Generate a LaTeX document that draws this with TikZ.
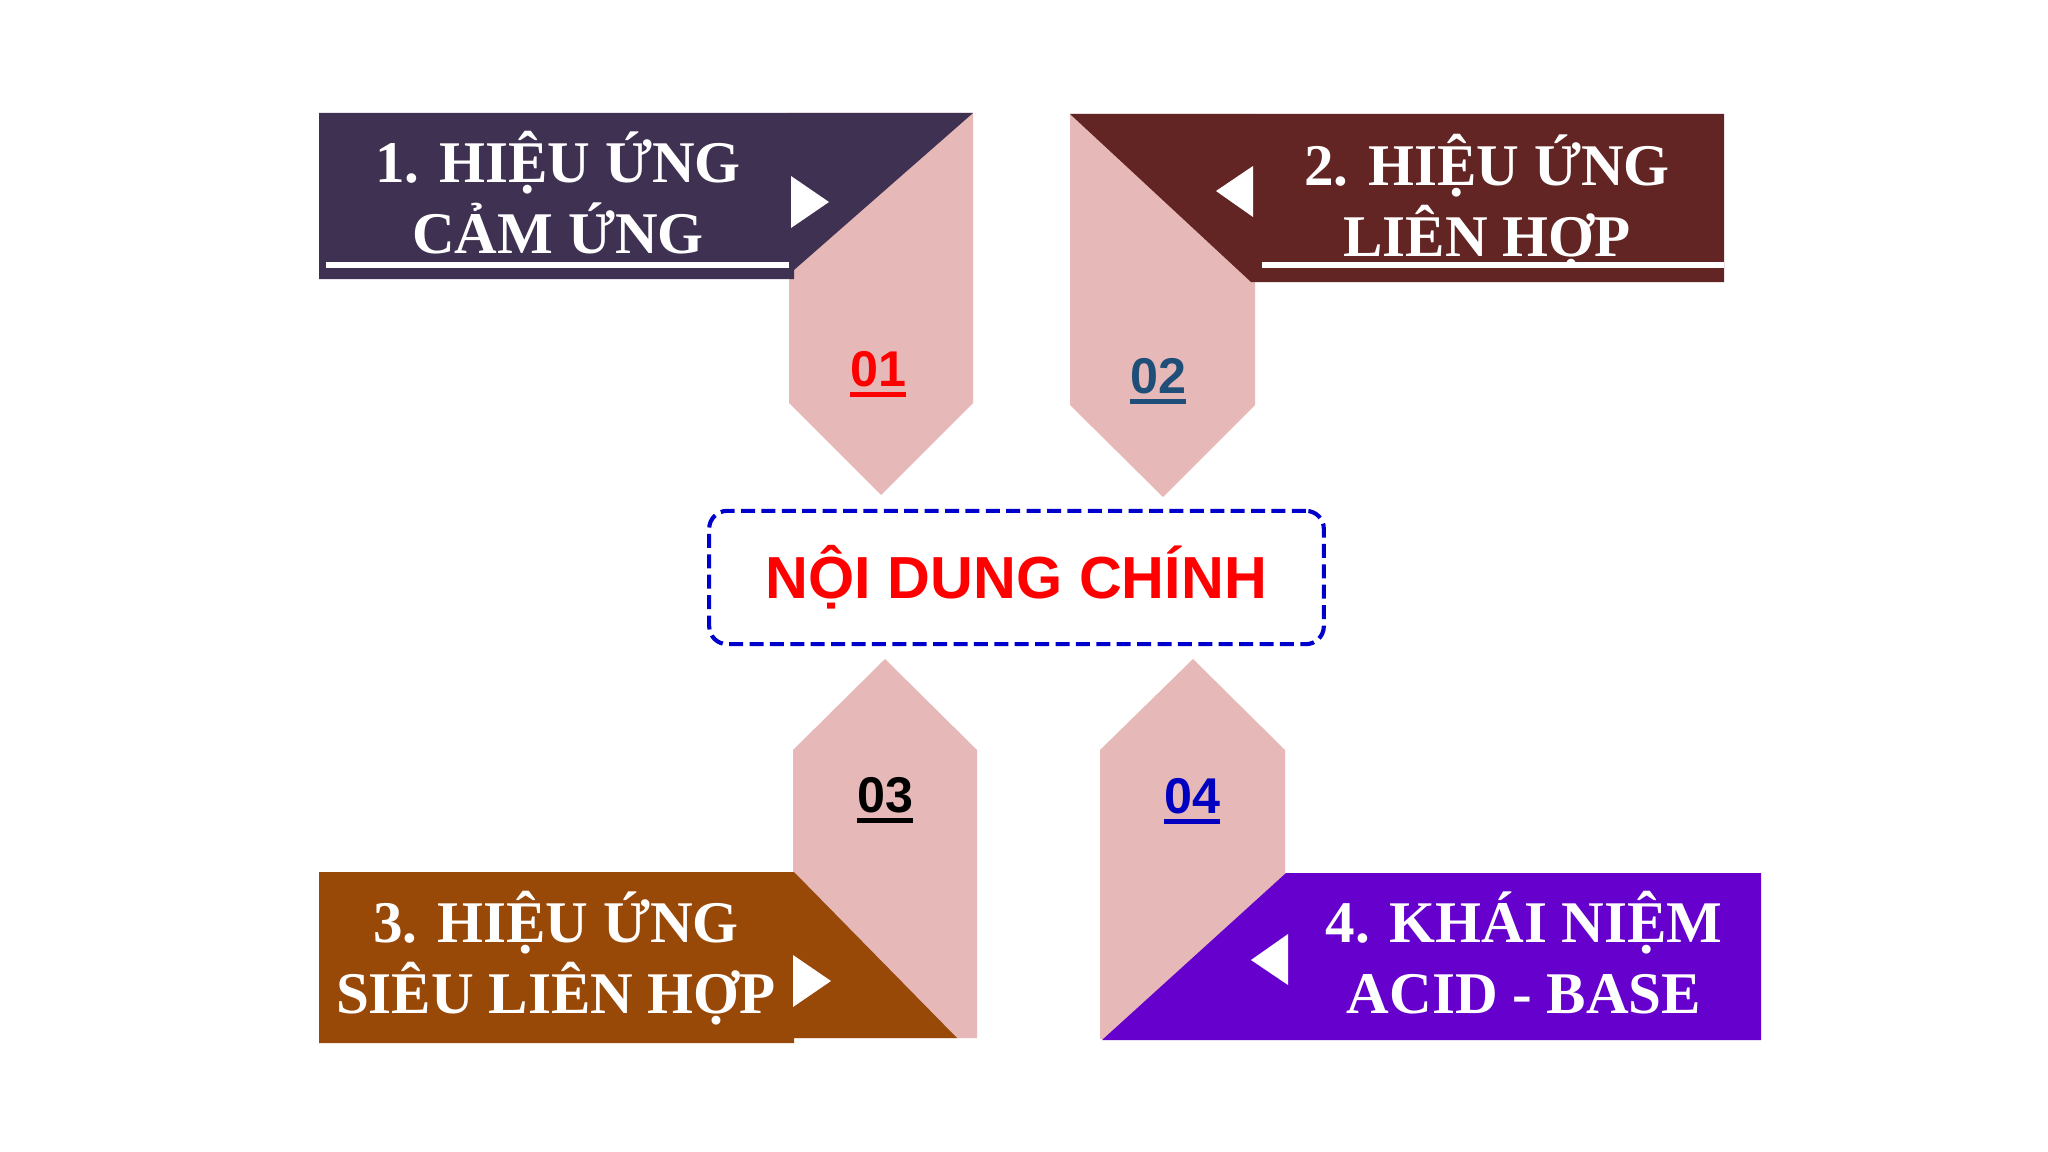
\documentclass[tikz,border=0pt]{standalone}
\usepackage{fontspec}
\usepackage{tikz}
\usetikzlibrary{calc}
\setmainfont{Liberation Serif}
\newfontfamily\titlefont{Liberation Serif}
\newfontfamily\numfont{Liberation Sans}
\definecolor{boxone}{HTML}{3F3151}
\definecolor{boxtwo}{HTML}{632523}
\definecolor{boxthree}{HTML}{984807}
\definecolor{boxfour}{HTML}{6600CC}
\definecolor{tabpink}{HTML}{E6B9B8}
\definecolor{frameblue}{HTML}{0000CC}
\definecolor{numblue}{HTML}{1F4E79}
\definecolor{numdeep}{HTML}{0000C0}

\begin{document}
\begin{tikzpicture}[x=0.75pt,y=0.75pt,yscale=-1,xscale=1,
    tab/.style={fill=tabpink},
    bar/.style={draw=white,line width=4.5pt},
    marker/.style={fill=white},
    heading/.style={text=white,align=center,inner sep=0pt,font=\titlefont\bfseries\fontsize{44.3}{53.25}\selectfont},
    num/.style={inner sep=0pt,font=\numfont\bfseries\fontsize{37.7}{40}\selectfont},
    numline/.style={line width=3.75pt}]
\useasboundingbox (0,0) rectangle (2048,1152);
\fill [white] (0,0) rectangle (2048,1152);

%Shape: Pentagon (01)
\fill [tab] (789,113) -- (973,113) -- (973,403) -- (881,495) -- (789,403) -- cycle ;
%Shape: Pentagon (02)
\fill [tab] (1070,114) -- (1255,114) -- (1255,405) -- (1163,497) -- (1070,405) -- cycle ;
%Shape: Pentagon (03)
\fill [tab] (793,1038) -- (977,1038) -- (977,750) -- (885,659) -- (793,750) -- cycle ;
%Shape: Pentagon (04)
\fill [tab] (1100,1039) -- (1285,1039) -- (1285,750) -- (1193,659) -- (1100,750) -- cycle ;

%Shape: Polygon (box 1)
\fill [boxone] (319,113) -- (973,113) -- (794,270) -- (794,279) -- (319,279) -- cycle ;
%Shape: Polygon (box 2)
\fill [boxtwo] (1070,114) -- (1724,114) -- (1724,282) -- (1251,282) -- cycle ;
%Shape: Polygon (box 3)
\fill [boxthree] (319,872) -- (794,872) -- (957,1038) -- (794,1038) -- (794,1043) -- (319,1043) -- cycle ;
%Shape: Polygon (box 4)
\fill [boxfour] (1286,873) -- (1761,873) -- (1761,1040) -- (1102,1040) -- cycle ;

%Straight Lines (white bars)
\draw [bar] (326,265) -- (789,265) ;
\draw [bar] (1262,265) -- (1724,265) ;

%Shape: Triangle (markers)
\fill [marker] (791,176) -- (829,202) -- (791,228) -- cycle ;
\fill [marker] (1216,191) -- (1253,166) -- (1253,217) -- cycle ;
\fill [marker] (793,955) -- (831,981) -- (793,1007) -- cycle ;
\fill [marker] (1251,960) -- (1288,934) -- (1288,985) -- cycle ;

% Text Node
\draw (558,253) node [anchor=base][heading] (t1) {1. HIỆU ỨNG\\CẢM ỨNG};
% Text Node
\draw (1487,256) node [anchor=base][heading] (t2) {2. HIỆU ỨNG\\LIÊN HỢP};
% Text Node
\draw (556,1013) node [anchor=base][heading] (t3) {3. HIỆU ỨNG\\SIÊU LIÊN HỢP};
% Text Node
\draw (1524,1013) node [anchor=base][heading] (t4) {4. KHÁI NIỆM\\ACID - BASE};

% Text Node
\draw (878,386) node [anchor=base][num,text=red] (n1) {01};
\draw [numline,red] ($(n1.base west)+(0,8)$) -- ($(n1.base east)+(0,8)$) ;
% Text Node
\draw (1158,393) node [anchor=base][num,text=numblue] (n2) {02};
\draw [numline,numblue] ($(n2.base west)+(0,8)$) -- ($(n2.base east)+(0,8)$) ;
% Text Node
\draw (885,812) node [anchor=base][num,text=black] (n3) {03};
\draw [numline,black] ($(n3.base west)+(0,8)$) -- ($(n3.base east)+(0,8)$) ;
% Text Node
\draw (1192,813) node [anchor=base][num,text=numdeep] (n4) {04};
\draw [numline,numdeep] ($(n4.base west)+(0,8)$) -- ($(n4.base east)+(0,8)$) ;

% Text Node (dashed frame)
\draw (1016.5,577.5) node [draw=frameblue,line width=3.1pt,dash pattern=on 10.5pt off 4.8pt,rounded corners=13.5pt,
    minimum width=461pt,minimum height=100pt,inner sep=0pt,text=red,
    font=\numfont\bfseries\fontsize{44.5}{50}\selectfont] (main) {NỘI DUNG CHÍNH};

\end{tikzpicture}
\end{document}
